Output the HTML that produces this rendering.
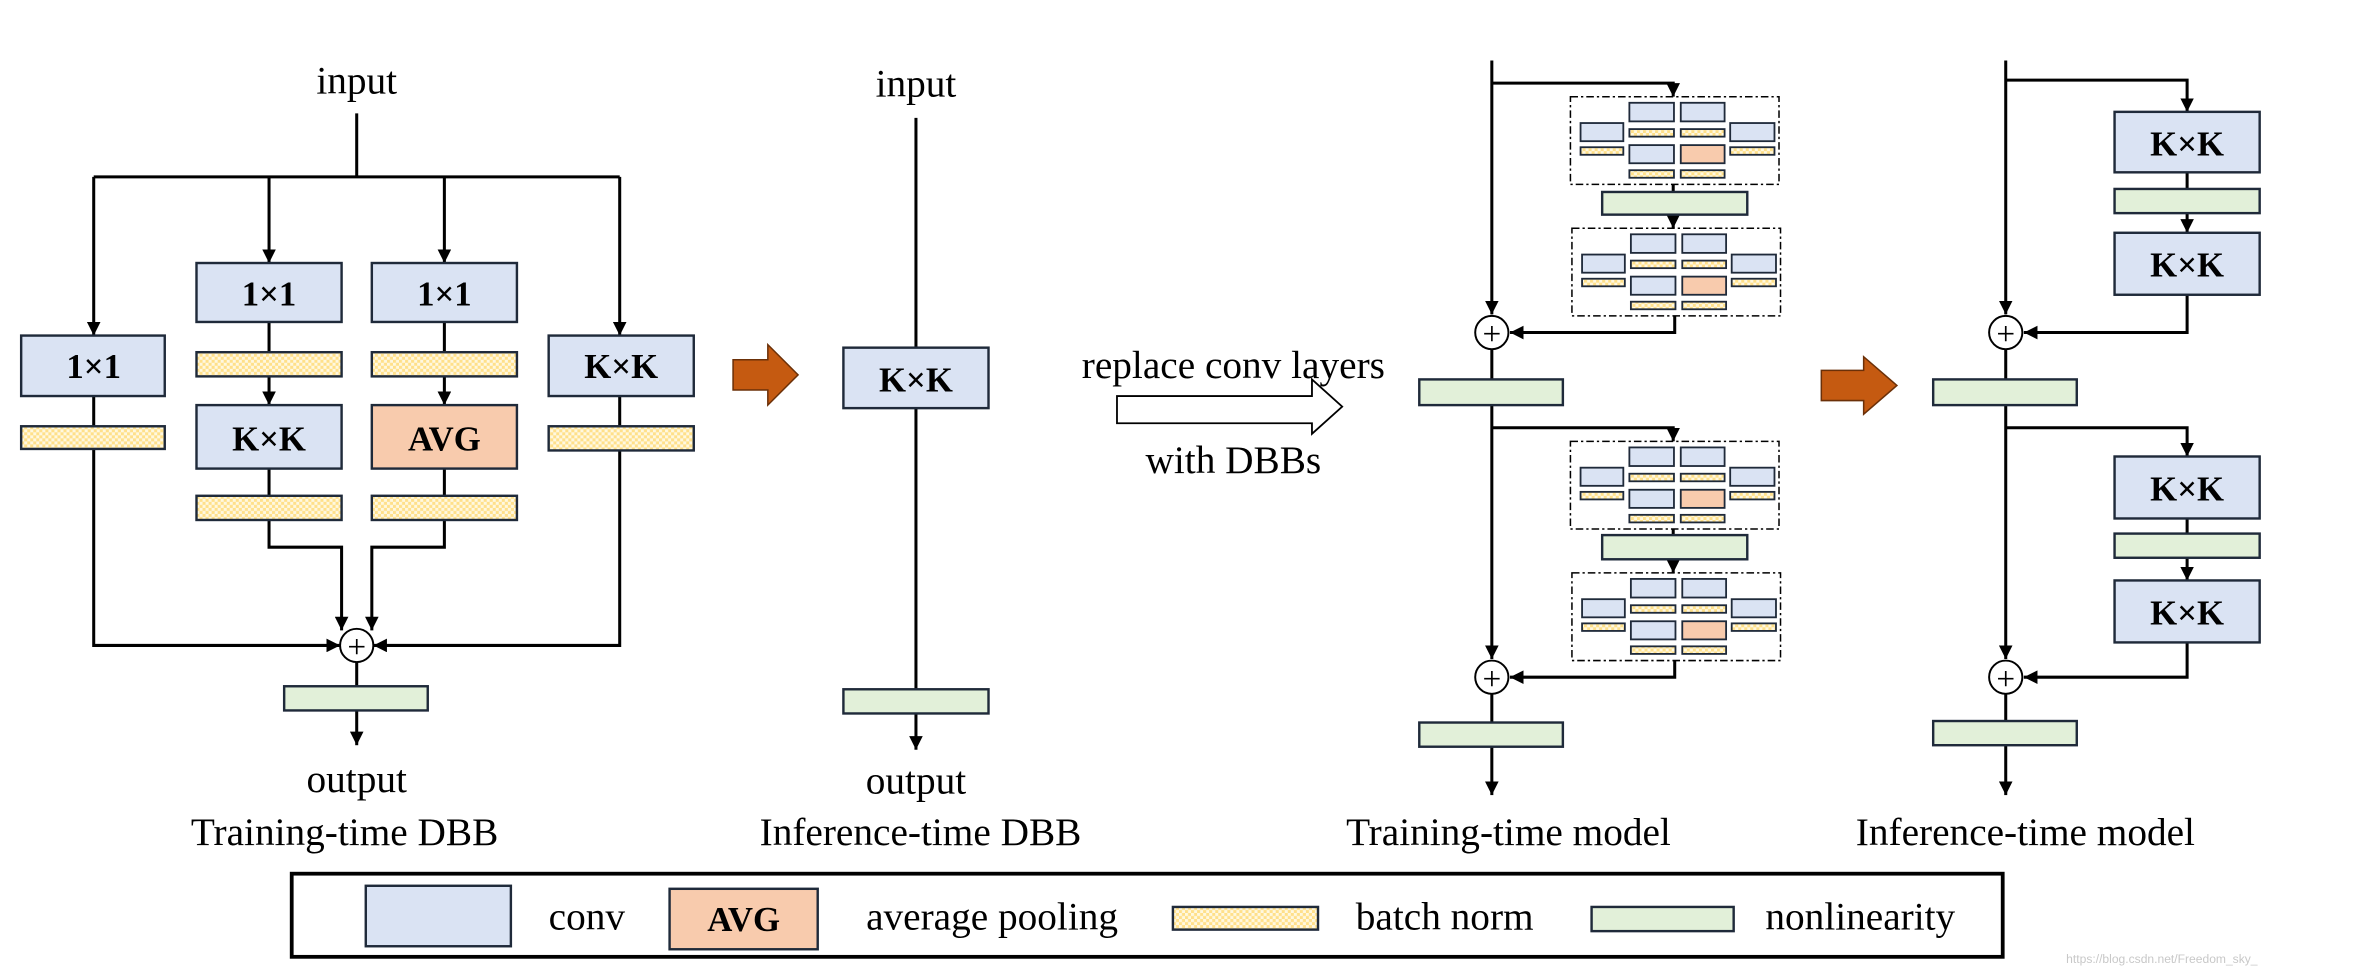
<!DOCTYPE html>
<html><head><meta charset="utf-8"><style>
html,body{margin:0;padding:0;background:#fff;}
svg{display:block;}
text{font-family:"Liberation Serif",serif;fill:#000;}
.b{font-weight:bold;}
</style></head><body>
<svg width="2370" height="973" viewBox="0 0 1568 643.7" preserveAspectRatio="none" xmlns="http://www.w3.org/2000/svg">
<defs>
<pattern id="chk" width="4" height="4" patternUnits="userSpaceOnUse">
<rect width="4" height="4" fill="#ffe08a"/><rect width="2" height="2" fill="#fff8e0"/><rect x="2" y="2" width="2" height="2" fill="#fff8e0"/>
</pattern>
<marker id="ar" viewBox="0 0 10 10" refX="10" refY="5" markerWidth="4.5" markerHeight="4.5" orient="auto"><path d="M0,0 L10,5 L0,10 z" fill="#000"/></marker>
<g id="mini">
<rect x="0" y="0" width="138" height="58" fill="#fff" stroke="#000" stroke-width="1" stroke-dasharray="5,2,1.5,2"/>
<g stroke="#1f2a3a" stroke-width="1.2">
<rect x="6.7" y="17.4" width="28.3" height="12" fill="#dae3f3"/>
<rect x="6.7" y="33.4" width="28.3" height="5" fill="url(#chk)"/>
<rect x="39" y="4" width="29.5" height="12.3" fill="#dae3f3"/>
<rect x="73" y="4" width="29" height="12.3" fill="#dae3f3"/>
<rect x="39" y="21.4" width="29.5" height="5" fill="url(#chk)"/>
<rect x="73" y="21.4" width="29" height="5" fill="url(#chk)"/>
<rect x="39" y="32" width="29.5" height="12" fill="#dae3f3"/>
<rect x="73" y="32" width="29" height="12" fill="#f8cbad"/>
<rect x="39" y="48.6" width="29.5" height="5" fill="url(#chk)"/>
<rect x="73" y="48.6" width="29" height="5" fill="url(#chk)"/>
<rect x="105.7" y="17.4" width="29.3" height="12" fill="#dae3f3"/>
<rect x="105.7" y="33.4" width="29.3" height="5" fill="url(#chk)"/>
</g>
</g>
</defs>

<!-- ===== Training-time DBB ===== -->
<text x="236" y="62" font-size="26" text-anchor="middle">input</text>
<g fill="none" stroke="#000" stroke-width="2">
<path d="M236,75 V117 M62,117 H410"/>
<path d="M62,117 V222" marker-end="url(#ar)"/>
<path d="M178,117 V174" marker-end="url(#ar)"/>
<path d="M294,117 V174" marker-end="url(#ar)"/>
<path d="M410,117 V222" marker-end="url(#ar)"/>
<path d="M178,213 V233 M294,213 V233"/>
<path d="M178,249 V268" marker-end="url(#ar)"/>
<path d="M294,249 V268" marker-end="url(#ar)"/>
<path d="M178,310 V328 M294,310 V328 M62,262 V282 M410,262 V282"/>
<path d="M178,344 V362 H226 V417" marker-end="url(#ar)"/>
<path d="M294,344 V362 H246 V417" marker-end="url(#ar)"/>
<path d="M62,297 V427 H225" marker-end="url(#ar)"/>
<path d="M410,298 V427 H247" marker-end="url(#ar)"/>
<path d="M236,438 V454"/>
<path d="M236,470 V493" marker-end="url(#ar)"/>
</g>
<g stroke="#1f2a3a" stroke-width="1.6">
<rect x="14" y="222" width="95" height="40" fill="#dae3f3"/>
<rect x="14" y="282" width="95" height="15" fill="url(#chk)"/>
<rect x="130" y="174" width="96" height="39" fill="#dae3f3"/>
<rect x="130" y="233" width="96" height="16" fill="url(#chk)"/>
<rect x="130" y="268" width="96" height="42" fill="#dae3f3"/>
<rect x="130" y="328" width="96" height="16" fill="url(#chk)"/>
<rect x="246" y="174" width="96" height="39" fill="#dae3f3"/>
<rect x="246" y="233" width="96" height="16" fill="url(#chk)"/>
<rect x="246" y="268" width="96" height="42" fill="#f8cbad"/>
<rect x="246" y="328" width="96" height="16" fill="url(#chk)"/>
<rect x="363" y="222" width="96" height="40" fill="#dae3f3"/>
<rect x="363" y="282" width="96" height="16" fill="url(#chk)"/>
<rect x="188" y="454" width="95" height="16" fill="#e2f0d9"/>
</g>
<circle cx="236" cy="427" r="11" fill="#fff" stroke="#000" stroke-width="1.3"/>
<text x="236" y="435" font-size="22" text-anchor="middle">+</text>
<text class="b" x="62" y="250" font-size="23" text-anchor="middle">1×1</text>
<text class="b" x="178" y="202" font-size="23" text-anchor="middle">1×1</text>
<text class="b" x="294" y="202" font-size="23" text-anchor="middle">1×1</text>
<text class="b" x="178" y="298" font-size="23" text-anchor="middle">K×K</text>
<text class="b" x="294" y="298" font-size="23" text-anchor="middle">AVG</text>
<text class="b" x="411" y="250" font-size="23" text-anchor="middle">K×K</text>
<text x="236" y="524" font-size="26" text-anchor="middle">output</text>
<text x="228" y="559" font-size="26" text-anchor="middle">Training-time DBB</text>

<!-- orange arrow 1 -->
<path d="M485,238 H508 V228 L528,248 L508,268 V258 H485 Z" fill="#c55a11" stroke="#6b3008" stroke-width="1"/>

<!-- ===== Inference-time DBB ===== -->
<text x="606" y="64" font-size="26" text-anchor="middle">input</text>
<g fill="none" stroke="#000" stroke-width="2">
<path d="M606,78 V230 M606,270 V456"/>
<path d="M606,472 V496" marker-end="url(#ar)"/>
</g>
<rect x="558" y="230" width="96" height="40" fill="#dae3f3" stroke="#1f2a3a" stroke-width="1.6"/>
<rect x="558" y="456" width="96" height="16" fill="#e2f0d9" stroke="#1f2a3a" stroke-width="1.6"/>
<text x="606" y="259" font-size="23" class="b" text-anchor="middle">K×K</text>
<text x="606" y="525" font-size="26" text-anchor="middle">output</text>
<text x="609" y="559" font-size="26" text-anchor="middle">Inference-time DBB</text>

<!-- replace arrow -->
<text x="816" y="250" font-size="26" text-anchor="middle">replace conv layers</text>
<path d="M739,262 H868 V251 L888,269 L868,287 V280 H739 Z" fill="#fff" stroke="#000" stroke-width="1.2"/>
<text x="816" y="313" font-size="26" text-anchor="middle">with DBBs</text>

<!-- ===== Training-time model ===== -->
<g fill="none" stroke="#000" stroke-width="2">
<path d="M987,40 V208" marker-end="url(#ar)"/>
<path d="M987,55 H1107 V64" marker-end="url(#ar)"/>
<path d="M1107,122 V127"/>
<path d="M1107,142 V151" marker-end="url(#ar)"/>
<path d="M1108,209 V220 H999" marker-end="url(#ar)"/>
<path d="M987,231 V251"/>
<path d="M987,283 H1107 V292" marker-end="url(#ar)"/>
<path d="M1107,350 V354"/>
<path d="M1107,370 V379" marker-end="url(#ar)"/>
<path d="M1108,437 V448 H999" marker-end="url(#ar)"/>
<path d="M987,268 V436" marker-end="url(#ar)"/>
<path d="M987,459 V478"/>
<path d="M987,494 V526" marker-end="url(#ar)"/>
</g>
<use href="#mini" x="1039" y="64"/>
<use href="#mini" x="1040" y="151"/>
<use href="#mini" x="1039" y="292"/>
<use href="#mini" x="1040" y="379"/>
<g stroke="#1f2a3a" stroke-width="1.6" fill="#e2f0d9">
<rect x="1060" y="127" width="96" height="15"/>
<rect x="1060" y="354" width="96" height="16"/>
<rect x="939" y="251" width="95" height="17"/>
<rect x="939" y="478" width="95" height="16"/>
</g>
<circle cx="987" cy="220" r="11" fill="#fff" stroke="#000" stroke-width="1.3"/>
<text x="987" y="228" font-size="22" text-anchor="middle">+</text>
<circle cx="987" cy="448" r="11" fill="#fff" stroke="#000" stroke-width="1.3"/>
<text x="987" y="456" font-size="22" text-anchor="middle">+</text>
<text x="998" y="559" font-size="26" text-anchor="middle">Training-time model</text>

<!-- orange arrow 2 -->
<path d="M1205,245 H1233 V236 L1255,255 L1233,274 V265 H1205 Z" fill="#c55a11" stroke="#6b3008" stroke-width="1"/>

<!-- ===== Inference-time model ===== -->
<g fill="none" stroke="#000" stroke-width="2">
<path d="M1327,40 V208" marker-end="url(#ar)"/>
<path d="M1327,53 H1447 V74" marker-end="url(#ar)"/>
<path d="M1447,114 V125"/>
<path d="M1447,141 V154" marker-end="url(#ar)"/>
<path d="M1447,195 V220 H1339" marker-end="url(#ar)"/>
<path d="M1327,231 V251"/>
<path d="M1327,268 V436" marker-end="url(#ar)"/>
<path d="M1327,283 H1447 V302" marker-end="url(#ar)"/>
<path d="M1447,343 V353"/>
<path d="M1447,369 V384" marker-end="url(#ar)"/>
<path d="M1447,425 V448 H1339" marker-end="url(#ar)"/>
<path d="M1327,459 V477"/>
<path d="M1327,493 V526" marker-end="url(#ar)"/>
</g>
<g stroke="#1f2a3a" stroke-width="1.6">
<rect x="1399" y="74" width="96" height="40" fill="#dae3f3"/>
<rect x="1399" y="125" width="96" height="16" fill="#e2f0d9"/>
<rect x="1399" y="154" width="96" height="41" fill="#dae3f3"/>
<rect x="1399" y="302" width="96" height="41" fill="#dae3f3"/>
<rect x="1399" y="353" width="96" height="16" fill="#e2f0d9"/>
<rect x="1399" y="384" width="96" height="41" fill="#dae3f3"/>
<rect x="1279" y="251" width="95" height="17" fill="#e2f0d9"/>
<rect x="1279" y="477" width="95" height="16" fill="#e2f0d9"/>
</g>
<circle cx="1327" cy="220" r="11" fill="#fff" stroke="#000" stroke-width="1.3"/>
<text x="1327" y="228" font-size="22" text-anchor="middle">+</text>
<circle cx="1327" cy="448" r="11" fill="#fff" stroke="#000" stroke-width="1.3"/>
<text x="1327" y="456" font-size="22" text-anchor="middle">+</text>
<text class="b" x="1447" y="103" font-size="23" text-anchor="middle">K×K</text>
<text class="b" x="1447" y="183" font-size="23" text-anchor="middle">K×K</text>
<text class="b" x="1447" y="331" font-size="23" text-anchor="middle">K×K</text>
<text class="b" x="1447" y="413" font-size="23" text-anchor="middle">K×K</text>
<text x="1340" y="559" font-size="26" text-anchor="middle">Inference-time model</text>

<!-- ===== Legend ===== -->
<rect x="193" y="578" width="1132" height="55" fill="#fff" stroke="#000" stroke-width="2.5"/>
<rect x="242" y="586" width="96" height="40" fill="#dae3f3" stroke="#1f2a3a" stroke-width="1.6"/>
<text x="363" y="615" font-size="26">conv</text>
<rect x="443" y="588" width="98" height="40" fill="#f8cbad" stroke="#1f2a3a" stroke-width="1.6"/>
<text class="b" x="492" y="616" font-size="23" text-anchor="middle">AVG</text>
<text x="573" y="615" font-size="26">average pooling</text>
<rect x="776" y="600" width="96" height="15" fill="url(#chk)" stroke="#1f2a3a" stroke-width="1.6"/>
<text x="897" y="615" font-size="26">batch norm</text>
<rect x="1053" y="600" width="94" height="16" fill="#e2f0d9" stroke="#1f2a3a" stroke-width="1.6"/>
<text x="1168" y="615" font-size="26">nonlinearity</text>

<text x="1367" y="637" font-size="8" style="font-family:'Liberation Sans',sans-serif;fill:#c8c8c8">https://blog.csdn.net/Freedom_sky_</text>
</svg>
</body></html>
